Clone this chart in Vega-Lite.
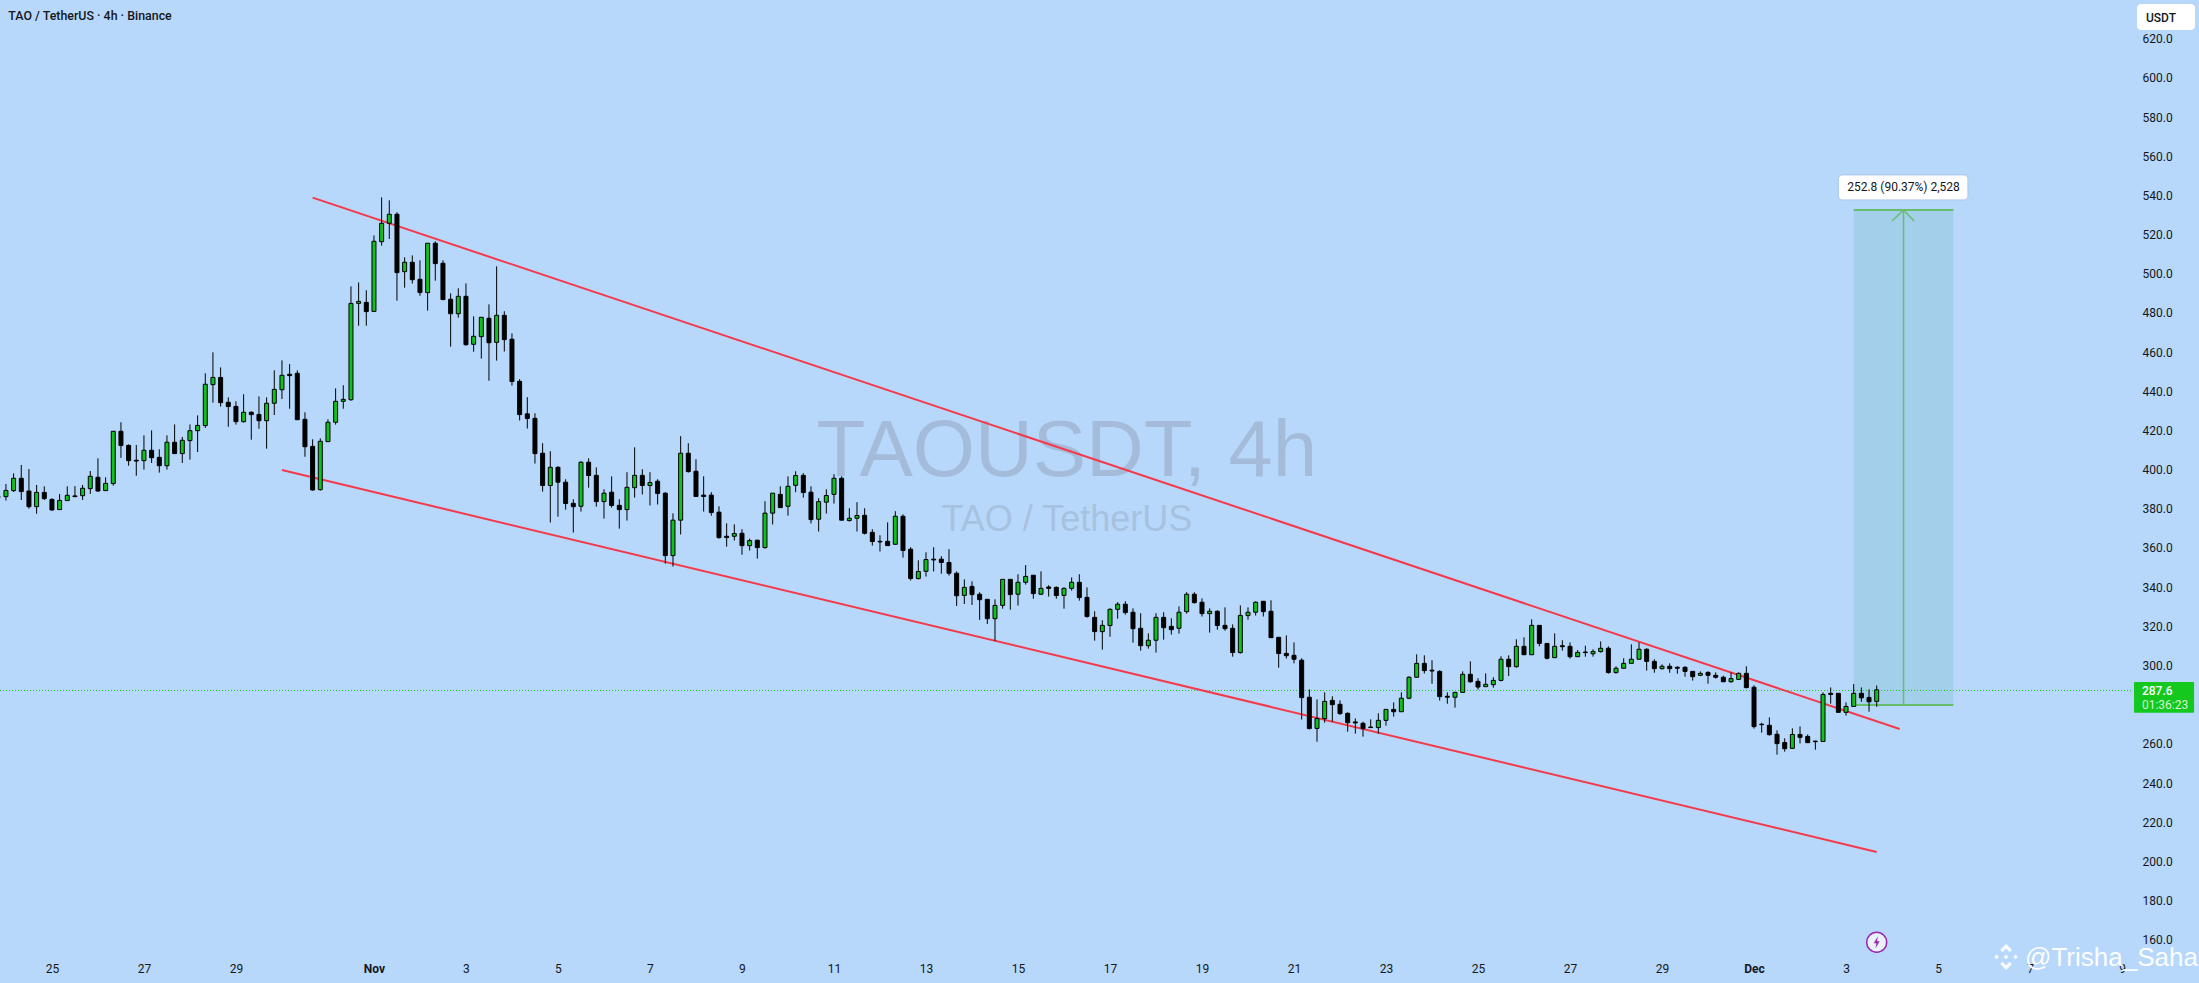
{"$schema":"https://vega.github.io/schema/vega-lite/v6.json","width":2133,"height":955,"autosize":{"type":"none"},"padding":{"left":0,"top":0,"right":66,"bottom":28},"background":"#b8d8fb","config":{"view":{"stroke":null},"font":"Roboto"},
"datasets":{"candles":[
{"t":"2024-10-23T20:00:00Z","o":386.1,"h":386.3,"l":385.9,"c":386.0},
{"t":"2024-10-24T00:00:00Z","o":386.2,"h":392.7,"l":384.2,"c":389.4},{"t":"2024-10-24T04:00:00Z","o":389.3,"h":398.1,"l":388.6,"c":395.6},{"t":"2024-10-24T08:00:00Z","o":395.6,"h":402.4,"l":384.5,"c":388.8},{"t":"2024-10-24T12:00:00Z","o":389.1,"h":400.3,"l":380.1,"c":381.1},{"t":"2024-10-24T16:00:00Z","o":381.1,"h":392.2,"l":377.5,"c":388.4},{"t":"2024-10-24T20:00:00Z","o":388.4,"h":391.5,"l":384.5,"c":385.2},
{"t":"2024-10-25T00:00:00Z","o":384.8,"h":385.4,"l":379.1,"c":379.4},{"t":"2024-10-25T04:00:00Z","o":379.6,"h":387.6,"l":379.6,"c":384.3},{"t":"2024-10-25T08:00:00Z","o":384.2,"h":391.5,"l":384.2,"c":386.9},{"t":"2024-10-25T12:00:00Z","o":386.6,"h":391.6,"l":386.2,"c":386.2},{"t":"2024-10-25T16:00:00Z","o":386.7,"h":392.2,"l":384.5,"c":390.5},{"t":"2024-10-25T20:00:00Z","o":390.3,"h":399.3,"l":387.6,"c":396.6},
{"t":"2024-10-26T00:00:00Z","o":396.1,"h":405.8,"l":388.8,"c":389.1},{"t":"2024-10-26T04:00:00Z","o":389.3,"h":396.1,"l":389.3,"c":393.0},{"t":"2024-10-26T08:00:00Z","o":392.9,"h":419.6,"l":391.8,"c":419.6},{"t":"2024-10-26T12:00:00Z","o":419.6,"h":424.2,"l":406.0,"c":412.3},{"t":"2024-10-26T16:00:00Z","o":412.4,"h":412.9,"l":402.0,"c":404.6},{"t":"2024-10-26T20:00:00Z","o":404.8,"h":412.6,"l":396.9,"c":404.4},
{"t":"2024-10-27T00:00:00Z","o":404.6,"h":417.5,"l":400.0,"c":409.9},{"t":"2024-10-27T04:00:00Z","o":409.9,"h":420.1,"l":403.4,"c":406.1},{"t":"2024-10-27T08:00:00Z","o":406.3,"h":410.4,"l":398.5,"c":402.0},{"t":"2024-10-27T12:00:00Z","o":402.0,"h":417.5,"l":400.0,"c":414.0},{"t":"2024-10-27T16:00:00Z","o":414.0,"h":423.1,"l":408.2,"c":408.2},{"t":"2024-10-27T20:00:00Z","o":408.2,"h":416.7,"l":403.4,"c":415.0},
{"t":"2024-10-28T00:00:00Z","o":414.8,"h":423.1,"l":405.1,"c":419.9},{"t":"2024-10-28T04:00:00Z","o":419.9,"h":427.7,"l":409.0,"c":422.6},{"t":"2024-10-28T08:00:00Z","o":422.5,"h":449.2,"l":421.3,"c":443.6},{"t":"2024-10-28T12:00:00Z","o":443.4,"h":459.9,"l":434.2,"c":447.1},{"t":"2024-10-28T16:00:00Z","o":447.1,"h":452.2,"l":432.2,"c":434.2},{"t":"2024-10-28T20:00:00Z","o":434.4,"h":436.9,"l":421.9,"c":432.2},
{"t":"2024-10-29T00:00:00Z","o":432.3,"h":434.9,"l":423.0,"c":424.5},{"t":"2024-10-29T04:00:00Z","o":424.5,"h":438.5,"l":424.0,"c":429.3},{"t":"2024-10-29T08:00:00Z","o":429.3,"h":429.8,"l":415.3,"c":428.1},{"t":"2024-10-29T12:00:00Z","o":428.2,"h":437.4,"l":420.9,"c":425.0},{"t":"2024-10-29T16:00:00Z","o":425.0,"h":436.9,"l":410.7,"c":433.9},{"t":"2024-10-29T20:00:00Z","o":433.9,"h":450.7,"l":427.9,"c":441.0},
{"t":"2024-10-30T00:00:00Z","o":440.8,"h":455.8,"l":436.1,"c":448.2},{"t":"2024-10-30T04:00:00Z","o":448.7,"h":453.9,"l":431.1,"c":448.0},{"t":"2024-10-30T08:00:00Z","o":449.2,"h":450.7,"l":425.5,"c":425.5},{"t":"2024-10-30T12:00:00Z","o":425.7,"h":429.3,"l":406.6,"c":411.7},{"t":"2024-10-30T16:00:00Z","o":411.9,"h":415.5,"l":389.3,"c":389.6},{"t":"2024-10-30T20:00:00Z","o":389.8,"h":416.0,"l":389.3,"c":414.5},
{"t":"2024-10-31T00:00:00Z","o":414.3,"h":425.7,"l":414.3,"c":424.2},{"t":"2024-10-31T04:00:00Z","o":424.2,"h":441.5,"l":423.0,"c":434.9},{"t":"2024-10-31T08:00:00Z","o":434.9,"h":443.1,"l":431.1,"c":435.9},{"t":"2024-10-31T12:00:00Z","o":435.7,"h":493.6,"l":435.2,"c":484.9},{"t":"2024-10-31T16:00:00Z","o":484.9,"h":495.6,"l":473.5,"c":485.9},{"t":"2024-10-31T20:00:00Z","o":485.4,"h":491.6,"l":473.5,"c":480.7},
{"t":"2024-11-01T00:00:00Z","o":480.8,"h":519.6,"l":480.8,"c":516.6},{"t":"2024-11-01T04:00:00Z","o":516.4,"h":539.0,"l":514.4,"c":525.8},{"t":"2024-11-01T08:00:00Z","o":525.8,"h":537.5,"l":517.8,"c":530.4},{"t":"2024-11-01T12:00:00Z","o":530.4,"h":531.4,"l":486.3,"c":500.6},{"t":"2024-11-01T16:00:00Z","o":501.1,"h":508.4,"l":492.9,"c":505.9},{"t":"2024-11-01T20:00:00Z","o":505.9,"h":509.4,"l":495.0,"c":497.0},
{"t":"2024-11-02T00:00:00Z","o":497.2,"h":506.9,"l":488.8,"c":490.4},{"t":"2024-11-02T04:00:00Z","o":490.4,"h":515.6,"l":481.2,"c":515.6},{"t":"2024-11-02T08:00:00Z","o":515.6,"h":516.6,"l":496.5,"c":505.2},{"t":"2024-11-02T12:00:00Z","o":505.4,"h":506.9,"l":486.8,"c":486.8},{"t":"2024-11-02T16:00:00Z","o":487.0,"h":490.0,"l":462.8,"c":479.6},{"t":"2024-11-02T20:00:00Z","o":479.6,"h":492.6,"l":477.6,"c":488.5},
{"t":"2024-11-03T00:00:00Z","o":488.5,"h":495.1,"l":463.3,"c":463.8},{"t":"2024-11-03T04:00:00Z","o":464.0,"h":478.3,"l":460.2,"c":468.1},{"t":"2024-11-03T08:00:00Z","o":467.9,"h":477.8,"l":456.7,"c":477.8},{"t":"2024-11-03T12:00:00Z","o":477.3,"h":484.4,"l":445.4,"c":464.8},{"t":"2024-11-03T16:00:00Z","o":465.0,"h":503.8,"l":455.7,"c":478.8},{"t":"2024-11-03T20:00:00Z","o":478.8,"h":480.9,"l":460.3,"c":466.4},
{"t":"2024-11-04T00:00:00Z","o":466.6,"h":469.6,"l":442.9,"c":445.0},{"t":"2024-11-04T04:00:00Z","o":445.1,"h":446.2,"l":425.1,"c":428.1},{"t":"2024-11-04T08:00:00Z","o":428.5,"h":437.0,"l":421.0,"c":426.1},{"t":"2024-11-04T12:00:00Z","o":426.2,"h":428.8,"l":403.1,"c":408.2},{"t":"2024-11-04T16:00:00Z","o":408.4,"h":413.5,"l":388.8,"c":391.9},{"t":"2024-11-04T20:00:00Z","o":391.9,"h":409.4,"l":373.0,"c":401.2},
{"t":"2024-11-05T00:00:00Z","o":401.2,"h":401.7,"l":376.0,"c":393.6},{"t":"2024-11-05T04:00:00Z","o":393.6,"h":395.1,"l":379.6,"c":382.7},{"t":"2024-11-05T08:00:00Z","o":382.8,"h":384.9,"l":367.9,"c":381.1},{"t":"2024-11-05T12:00:00Z","o":381.3,"h":404.3,"l":378.6,"c":403.8},{"t":"2024-11-05T16:00:00Z","o":403.8,"h":405.8,"l":390.8,"c":397.0},{"t":"2024-11-05T20:00:00Z","o":397.1,"h":401.2,"l":381.1,"c":383.7},
{"t":"2024-11-06T00:00:00Z","o":383.7,"h":390.0,"l":375.0,"c":388.0},{"t":"2024-11-06T04:00:00Z","o":388.5,"h":396.6,"l":380.6,"c":381.7},{"t":"2024-11-06T08:00:00Z","o":381.8,"h":384.9,"l":369.9,"c":379.6},{"t":"2024-11-06T12:00:00Z","o":379.6,"h":398.7,"l":374.0,"c":391.0},{"t":"2024-11-06T16:00:00Z","o":390.8,"h":411.4,"l":385.7,"c":397.1},{"t":"2024-11-06T20:00:00Z","o":397.1,"h":400.2,"l":387.3,"c":391.9},
{"t":"2024-11-07T00:00:00Z","o":391.9,"h":398.7,"l":381.7,"c":393.4},{"t":"2024-11-07T04:00:00Z","o":394.1,"h":395.1,"l":382.2,"c":387.8},{"t":"2024-11-07T08:00:00Z","o":388.0,"h":388.5,"l":352.0,"c":356.1},{"t":"2024-11-07T12:00:00Z","o":356.1,"h":377.7,"l":350.5,"c":374.2},{"t":"2024-11-07T16:00:00Z","o":374.2,"h":417.1,"l":366.9,"c":408.4},{"t":"2024-11-07T20:00:00Z","o":408.4,"h":413.5,"l":398.5,"c":399.0},
{"t":"2024-11-08T00:00:00Z","o":399.2,"h":405.3,"l":386.3,"c":386.3},{"t":"2024-11-08T04:00:00Z","o":387.0,"h":396.6,"l":378.6,"c":386.3},{"t":"2024-11-08T08:00:00Z","o":387.0,"h":388.5,"l":376.5,"c":378.1},{"t":"2024-11-08T12:00:00Z","o":378.3,"h":381.3,"l":364.8,"c":365.3},{"t":"2024-11-08T16:00:00Z","o":366.0,"h":372.6,"l":360.7,"c":365.3},{"t":"2024-11-08T20:00:00Z","o":366.0,"h":372.1,"l":363.8,"c":367.4},
{"t":"2024-11-09T00:00:00Z","o":367.5,"h":369.6,"l":356.6,"c":361.2},{"t":"2024-11-09T04:00:00Z","o":361.2,"h":364.8,"l":358.7,"c":363.8},{"t":"2024-11-09T08:00:00Z","o":364.0,"h":364.1,"l":354.6,"c":360.2},{"t":"2024-11-09T12:00:00Z","o":360.2,"h":383.9,"l":359.7,"c":377.8},{"t":"2024-11-09T16:00:00Z","o":377.8,"h":388.0,"l":372.0,"c":388.0},{"t":"2024-11-09T20:00:00Z","o":387.4,"h":391.5,"l":380.6,"c":380.6},
{"t":"2024-11-10T00:00:00Z","o":381.3,"h":396.6,"l":376.5,"c":391.5},{"t":"2024-11-10T04:00:00Z","o":392.0,"h":399.2,"l":388.5,"c":397.0},{"t":"2024-11-10T08:00:00Z","o":397.1,"h":398.2,"l":385.7,"c":388.3},{"t":"2024-11-10T12:00:00Z","o":388.5,"h":391.5,"l":372.5,"c":374.5},{"t":"2024-11-10T16:00:00Z","o":374.7,"h":385.4,"l":368.4,"c":383.7},{"t":"2024-11-10T20:00:00Z","o":383.4,"h":390.0,"l":377.6,"c":386.8},
{"t":"2024-11-11T00:00:00Z","o":387.4,"h":397.7,"l":382.7,"c":395.6},{"t":"2024-11-11T04:00:00Z","o":395.6,"h":396.6,"l":374.2,"c":374.2},{"t":"2024-11-11T08:00:00Z","o":374.0,"h":380.3,"l":373.5,"c":375.2},{"t":"2024-11-11T12:00:00Z","o":375.2,"h":383.4,"l":368.4,"c":376.6},{"t":"2024-11-11T16:00:00Z","o":376.7,"h":380.3,"l":366.9,"c":367.5},{"t":"2024-11-11T20:00:00Z","o":368.0,"h":369.6,"l":361.2,"c":363.3},
{"t":"2024-11-12T00:00:00Z","o":363.4,"h":366.5,"l":358.2,"c":363.1},{"t":"2024-11-12T04:00:00Z","o":363.4,"h":373.1,"l":361.2,"c":361.2},{"t":"2024-11-12T08:00:00Z","o":361.9,"h":378.8,"l":361.7,"c":376.2},{"t":"2024-11-12T12:00:00Z","o":376.2,"h":377.2,"l":355.1,"c":358.7},{"t":"2024-11-12T16:00:00Z","o":359.4,"h":360.4,"l":343.4,"c":344.4},{"t":"2024-11-12T20:00:00Z","o":344.4,"h":353.7,"l":343.9,"c":348.0},
{"t":"2024-11-13T00:00:00Z","o":348.1,"h":357.8,"l":345.4,"c":354.1},{"t":"2024-11-13T04:00:00Z","o":354.3,"h":360.4,"l":348.0,"c":353.9},{"t":"2024-11-13T08:00:00Z","o":354.3,"h":355.8,"l":346.9,"c":352.6},{"t":"2024-11-13T12:00:00Z","o":352.6,"h":359.4,"l":345.9,"c":347.1},{"t":"2024-11-13T16:00:00Z","o":347.1,"h":348.0,"l":330.4,"c":335.6},{"t":"2024-11-13T20:00:00Z","o":335.8,"h":344.0,"l":331.4,"c":339.9},
{"t":"2024-11-14T00:00:00Z","o":340.4,"h":343.0,"l":330.9,"c":336.2},{"t":"2024-11-14T04:00:00Z","o":336.4,"h":337.4,"l":323.3,"c":333.6},{"t":"2024-11-14T08:00:00Z","o":333.8,"h":333.8,"l":321.2,"c":323.9},{"t":"2024-11-14T12:00:00Z","o":323.9,"h":333.8,"l":312.5,"c":330.7},{"t":"2024-11-14T16:00:00Z","o":330.7,"h":344.0,"l":329.0,"c":344.0},{"t":"2024-11-14T20:00:00Z","o":344.0,"h":344.0,"l":328.5,"c":336.2},
{"t":"2024-11-15T00:00:00Z","o":336.4,"h":346.6,"l":330.6,"c":342.5},{"t":"2024-11-15T04:00:00Z","o":342.5,"h":351.3,"l":341.3,"c":345.5},{"t":"2024-11-15T08:00:00Z","o":346.1,"h":346.1,"l":334.1,"c":336.7},{"t":"2024-11-15T12:00:00Z","o":336.4,"h":348.1,"l":336.2,"c":339.4},{"t":"2024-11-15T16:00:00Z","o":340.1,"h":341.0,"l":335.2,"c":339.4},{"t":"2024-11-15T20:00:00Z","o":339.9,"h":340.4,"l":334.1,"c":335.7},
{"t":"2024-11-16T00:00:00Z","o":335.8,"h":339.9,"l":329.0,"c":339.4},{"t":"2024-11-16T04:00:00Z","o":339.4,"h":345.0,"l":338.2,"c":342.5},{"t":"2024-11-16T08:00:00Z","o":342.5,"h":346.6,"l":333.1,"c":334.7},{"t":"2024-11-16T12:00:00Z","o":334.8,"h":339.9,"l":324.4,"c":325.0},{"t":"2024-11-16T16:00:00Z","o":324.6,"h":327.7,"l":312.7,"c":317.3},{"t":"2024-11-16T20:00:00Z","o":317.3,"h":323.1,"l":308.1,"c":320.5},
{"t":"2024-11-17T00:00:00Z","o":320.4,"h":329.2,"l":314.7,"c":328.7},{"t":"2024-11-17T04:00:00Z","o":328.7,"h":332.3,"l":323.9,"c":331.3},{"t":"2024-11-17T08:00:00Z","o":331.3,"h":332.8,"l":326.0,"c":327.0},{"t":"2024-11-17T12:00:00Z","o":327.2,"h":329.2,"l":311.7,"c":318.8},{"t":"2024-11-17T16:00:00Z","o":319.0,"h":326.7,"l":307.6,"c":310.1},{"t":"2024-11-17T20:00:00Z","o":310.1,"h":316.4,"l":308.6,"c":312.9},
{"t":"2024-11-18T00:00:00Z","o":312.9,"h":326.7,"l":306.6,"c":324.6},{"t":"2024-11-18T04:00:00Z","o":324.6,"h":327.2,"l":313.2,"c":319.3},{"t":"2024-11-18T08:00:00Z","o":320.0,"h":324.1,"l":315.8,"c":318.3},{"t":"2024-11-18T12:00:00Z","o":319.0,"h":330.2,"l":316.3,"c":327.2},{"t":"2024-11-18T16:00:00Z","o":327.5,"h":337.4,"l":326.5,"c":336.4},{"t":"2024-11-18T20:00:00Z","o":336.4,"h":337.4,"l":331.6,"c":332.1},
{"t":"2024-11-19T00:00:00Z","o":332.3,"h":334.3,"l":325.0,"c":326.5},{"t":"2024-11-19T04:00:00Z","o":326.5,"h":329.2,"l":316.8,"c":327.7},{"t":"2024-11-19T08:00:00Z","o":327.7,"h":328.2,"l":318.3,"c":320.4},{"t":"2024-11-19T12:00:00Z","o":320.5,"h":329.7,"l":317.8,"c":318.8},{"t":"2024-11-19T16:00:00Z","o":319.0,"h":321.0,"l":304.5,"c":306.6},{"t":"2024-11-19T20:00:00Z","o":306.6,"h":330.7,"l":306.1,"c":325.6},
{"t":"2024-11-20T00:00:00Z","o":325.5,"h":329.7,"l":323.4,"c":327.2},{"t":"2024-11-20T04:00:00Z","o":327.2,"h":332.8,"l":325.5,"c":332.3},{"t":"2024-11-20T08:00:00Z","o":332.8,"h":332.8,"l":325.0,"c":327.5},{"t":"2024-11-20T12:00:00Z","o":327.7,"h":333.3,"l":314.2,"c":314.2},{"t":"2024-11-20T16:00:00Z","o":314.4,"h":314.4,"l":298.9,"c":306.1},{"t":"2024-11-20T20:00:00Z","o":306.2,"h":315.4,"l":303.5,"c":305.0},
{"t":"2024-11-21T00:00:00Z","o":305.2,"h":311.8,"l":301.1,"c":303.2},{"t":"2024-11-21T04:00:00Z","o":302.7,"h":303.7,"l":272.4,"c":283.6},{"t":"2024-11-21T08:00:00Z","o":283.8,"h":287.8,"l":267.3,"c":267.8},{"t":"2024-11-21T12:00:00Z","o":267.9,"h":282.7,"l":261.1,"c":272.9},{"t":"2024-11-21T16:00:00Z","o":272.9,"h":286.3,"l":270.8,"c":281.7},{"t":"2024-11-21T20:00:00Z","o":282.2,"h":284.3,"l":271.3,"c":280.0},
{"t":"2024-11-22T00:00:00Z","o":280.2,"h":282.2,"l":274.9,"c":275.4},{"t":"2024-11-22T04:00:00Z","o":275.6,"h":276.1,"l":266.2,"c":270.8},{"t":"2024-11-22T08:00:00Z","o":271.2,"h":273.0,"l":265.2,"c":270.7},{"t":"2024-11-22T12:00:00Z","o":270.5,"h":271.3,"l":263.7,"c":267.8},{"t":"2024-11-22T16:00:00Z","o":268.6,"h":272.5,"l":268.3,"c":268.3},{"t":"2024-11-22T20:00:00Z","o":268.3,"h":275.6,"l":265.2,"c":272.0},
{"t":"2024-11-23T00:00:00Z","o":272.0,"h":277.6,"l":269.3,"c":277.6},{"t":"2024-11-23T04:00:00Z","o":277.6,"h":281.2,"l":273.9,"c":276.4},{"t":"2024-11-23T08:00:00Z","o":276.4,"h":286.3,"l":276.4,"c":283.3},{"t":"2024-11-23T12:00:00Z","o":283.3,"h":294.5,"l":282.8,"c":294.0},{"t":"2024-11-23T16:00:00Z","o":294.0,"h":305.7,"l":293.8,"c":301.1},{"t":"2024-11-23T20:00:00Z","o":301.1,"h":305.2,"l":295.9,"c":297.4},
{"t":"2024-11-24T00:00:00Z","o":297.6,"h":302.7,"l":290.7,"c":297.2},{"t":"2024-11-24T04:00:00Z","o":297.0,"h":297.6,"l":282.1,"c":284.1},{"t":"2024-11-24T08:00:00Z","o":284.3,"h":286.3,"l":280.5,"c":283.8},{"t":"2024-11-24T12:00:00Z","o":283.8,"h":286.5,"l":278.5,"c":286.3},{"t":"2024-11-24T16:00:00Z","o":286.3,"h":297.0,"l":286.3,"c":295.5},{"t":"2024-11-24T20:00:00Z","o":295.5,"h":302.1,"l":291.2,"c":291.7},
{"t":"2024-11-25T00:00:00Z","o":291.9,"h":293.5,"l":287.7,"c":289.0},{"t":"2024-11-25T04:00:00Z","o":289.2,"h":296.0,"l":289.2,"c":290.4},{"t":"2024-11-25T08:00:00Z","o":290.2,"h":294.0,"l":288.7,"c":292.4},{"t":"2024-11-25T12:00:00Z","o":292.4,"h":304.7,"l":291.9,"c":303.2},{"t":"2024-11-25T16:00:00Z","o":303.2,"h":305.2,"l":294.6,"c":299.4},{"t":"2024-11-25T20:00:00Z","o":299.4,"h":313.4,"l":298.9,"c":309.8},
{"t":"2024-11-26T00:00:00Z","o":309.8,"h":314.4,"l":305.5,"c":305.5},{"t":"2024-11-26T04:00:00Z","o":305.5,"h":323.6,"l":305.5,"c":320.5},{"t":"2024-11-26T08:00:00Z","o":320.5,"h":320.5,"l":309.8,"c":311.3},{"t":"2024-11-26T12:00:00Z","o":311.3,"h":311.3,"l":303.1,"c":303.7},{"t":"2024-11-26T16:00:00Z","o":304.0,"h":316.4,"l":304.0,"c":309.8},{"t":"2024-11-26T20:00:00Z","o":310.1,"h":312.9,"l":307.6,"c":309.6},
{"t":"2024-11-27T00:00:00Z","o":309.8,"h":311.8,"l":303.5,"c":304.5},{"t":"2024-11-27T04:00:00Z","o":304.5,"h":307.9,"l":304.5,"c":306.7},{"t":"2024-11-27T08:00:00Z","o":306.9,"h":310.1,"l":304.5,"c":306.6},{"t":"2024-11-27T12:00:00Z","o":306.0,"h":308.3,"l":304.5,"c":307.2},{"t":"2024-11-27T16:00:00Z","o":307.1,"h":312.3,"l":306.6,"c":308.8},{"t":"2024-11-27T20:00:00Z","o":308.8,"h":309.8,"l":295.8,"c":296.4},
{"t":"2024-11-28T00:00:00Z","o":296.4,"h":299.6,"l":295.8,"c":298.6},{"t":"2024-11-28T04:00:00Z","o":298.6,"h":303.7,"l":298.6,"c":301.1},{"t":"2024-11-28T08:00:00Z","o":301.1,"h":310.8,"l":301.1,"c":303.2},{"t":"2024-11-28T12:00:00Z","o":303.2,"h":311.8,"l":303.2,"c":308.3},{"t":"2024-11-28T16:00:00Z","o":308.3,"h":308.8,"l":297.4,"c":302.1},{"t":"2024-11-28T20:00:00Z","o":302.1,"h":303.2,"l":296.3,"c":298.4},
{"t":"2024-11-29T00:00:00Z","o":298.4,"h":300.6,"l":297.9,"c":299.6},{"t":"2024-11-29T04:00:00Z","o":299.6,"h":301.1,"l":296.3,"c":298.4},{"t":"2024-11-29T08:00:00Z","o":299.1,"h":299.6,"l":295.8,"c":298.6},{"t":"2024-11-29T12:00:00Z","o":299.1,"h":299.6,"l":294.3,"c":297.0},{"t":"2024-11-29T16:00:00Z","o":297.0,"h":297.0,"l":292.3,"c":294.3},{"t":"2024-11-29T20:00:00Z","o":295.0,"h":297.0,"l":294.6,"c":296.0},
{"t":"2024-11-30T00:00:00Z","o":296.5,"h":297.0,"l":290.7,"c":295.0},{"t":"2024-11-30T04:00:00Z","o":295.0,"h":296.5,"l":293.3,"c":294.0},{"t":"2024-11-30T08:00:00Z","o":294.0,"h":294.8,"l":291.7,"c":291.7},{"t":"2024-11-30T12:00:00Z","o":291.7,"h":296.5,"l":291.2,"c":293.3},{"t":"2024-11-30T16:00:00Z","o":292.9,"h":296.5,"l":292.9,"c":296.0},{"t":"2024-11-30T20:00:00Z","o":296.0,"h":299.6,"l":288.4,"c":288.7},
{"t":"2024-12-01T00:00:00Z","o":288.9,"h":289.9,"l":267.8,"c":268.8},{"t":"2024-12-01T04:00:00Z","o":270.0,"h":270.8,"l":265.7,"c":269.8},{"t":"2024-12-01T08:00:00Z","o":269.5,"h":273.5,"l":264.2,"c":264.7},{"t":"2024-12-01T12:00:00Z","o":264.9,"h":266.9,"l":254.5,"c":260.1},{"t":"2024-12-01T16:00:00Z","o":260.7,"h":262.8,"l":256.0,"c":257.5},{"t":"2024-12-01T20:00:00Z","o":257.7,"h":267.9,"l":257.5,"c":264.8},
{"t":"2024-12-02T00:00:00Z","o":264.8,"h":268.9,"l":260.2,"c":263.3},{"t":"2024-12-02T04:00:00Z","o":263.8,"h":264.8,"l":260.6,"c":260.6},{"t":"2024-12-02T08:00:00Z","o":261.4,"h":261.6,"l":257.0,"c":261.1},{"t":"2024-12-02T12:00:00Z","o":261.2,"h":286.3,"l":261.1,"c":285.2},{"t":"2024-12-02T16:00:00Z","o":285.8,"h":288.8,"l":280.5,"c":285.2},{"t":"2024-12-02T20:00:00Z","o":285.8,"h":285.8,"l":276.1,"c":276.1},
{"t":"2024-12-03T00:00:00Z","o":276.1,"h":281.2,"l":274.4,"c":279.1},{"t":"2024-12-03T04:00:00Z","o":279.1,"h":290.5,"l":278.9,"c":285.8},{"t":"2024-12-03T08:00:00Z","o":285.8,"h":288.8,"l":281.5,"c":283.5},{"t":"2024-12-03T12:00:00Z","o":283.7,"h":287.8,"l":276.4,"c":281.5},{"t":"2024-12-03T16:00:00Z","o":281.7,"h":289.8,"l":278.9,"c":287.6}
],
"trend":[{"id":"upper","t":"2024-10-30T16:00:00Z","v":538.9},{"id":"upper","t":"2024-12-04T04:00:00Z","v":267.6},{"id":"lower","t":"2024-10-30T00:00:00Z","v":399.8},{"id":"lower","t":"2024-12-03T16:00:00Z","v":204.8}],
"range":[{"t":"2024-12-03T04:00:00Z","t2":"2024-12-05T08:00:00Z","v":279.8,"v2":532.6}],
"edges":[{"id":"top","t":"2024-12-03T04:00:00Z","v":532.6},{"id":"top","t":"2024-12-05T08:00:00Z","v":532.6},{"id":"bottom","t":"2024-12-03T04:00:00Z","v":279.8},{"id":"bottom","t":"2024-12-05T08:00:00Z","v":279.8}],
"arrow":[{"id":"shaft","t":"2024-12-04T06:00:00Z","v":279.8},{"id":"shaft","t":"2024-12-04T06:00:00Z","v":532.6},{"id":"head","t":"2024-12-04T00:00:00Z","v":527},{"id":"head","t":"2024-12-04T06:00:00Z","v":532.6},{"id":"head","t":"2024-12-04T11:30:00Z","v":527}]},
"encoding":{"x":{"field":"t","type":"temporal","title":null,"scale":{"type":"utc","padding":0,"domain":[{"utc":true,"year":2024,"month":10,"date":23,"hours":20,"minutes":54},{"utc":true,"year":2024,"month":12,"date":9,"hours":5,"minutes":43}]},"axis":{"orient":"bottom","domain":false,"ticks":false,"grid":false,"labelOverlap":false,"labelFlush":false,"labelPadding":8,"labelFontSize":12,"labelFont":"Roboto","labelColor":"#131722","labelExpr":"utcdate(datum.value)==1 ? utcFormat(datum.value,'%b') : utcFormat(datum.value,'%-d')","labelFontWeight":{"condition":{"test":"utcdate(datum.value)==1","value":700},"value":400},"values":[{"utc":true,"year":2024,"month":10,"date":25},{"utc":true,"year":2024,"month":10,"date":27},{"utc":true,"year":2024,"month":10,"date":29},{"utc":true,"year":2024,"month":11,"date":1},{"utc":true,"year":2024,"month":11,"date":3},{"utc":true,"year":2024,"month":11,"date":5},{"utc":true,"year":2024,"month":11,"date":7},{"utc":true,"year":2024,"month":11,"date":9},{"utc":true,"year":2024,"month":11,"date":11},{"utc":true,"year":2024,"month":11,"date":13},{"utc":true,"year":2024,"month":11,"date":15},{"utc":true,"year":2024,"month":11,"date":17},{"utc":true,"year":2024,"month":11,"date":19},{"utc":true,"year":2024,"month":11,"date":21},{"utc":true,"year":2024,"month":11,"date":23},{"utc":true,"year":2024,"month":11,"date":25},{"utc":true,"year":2024,"month":11,"date":27},{"utc":true,"year":2024,"month":11,"date":29},{"utc":true,"year":2024,"month":12,"date":1},{"utc":true,"year":2024,"month":12,"date":3},{"utc":true,"year":2024,"month":12,"date":5},{"utc":true,"year":2024,"month":12,"date":7},{"utc":true,"year":2024,"month":12,"date":9}]}},
"y":{"field":"v","type":"quantitative","title":null,"scale":{"domain":[152.19,639.8],"nice":false,"zero":false},"axis":{"orient":"right","domain":false,"ticks":false,"grid":false,"labelOverlap":false,"labelFlush":false,"labelPadding":9,"labelFontSize":12,"labelFont":"Roboto","labelColor":"#131722","format":".1f","values":[160,180,200,220,240,260,300,320,340,360,380,400,420,440,460,480,500,520,540,560,580,600,620]}}},
"layer":[
{"data":{"values":[{"label":"TAOUSDT, 4h","t":"2024-11-16T01:30:00Z","v":408.8}]},"mark":{"type":"text","font":"Liberation Sans","fontSize":80,"align":"center","baseline":"middle","color":"#a4bcda"},"encoding":{"text":{"field":"label"}}},
{"data":{"values":[{"label":"TAO / TetherUS","t":"2024-11-16T01:30:00Z","v":374.1}]},"mark":{"type":"text","font":"Liberation Sans","fontSize":36,"align":"center","baseline":"middle","color":"#a7c2e0"},"encoding":{"text":{"field":"label"}}},
{"data":{"name":"range"},"mark":{"type":"rect","color":"#a3cfeb"},"encoding":{"x2":{"field":"t2"},"y2":{"field":"v2"}}},
{"data":{"values":[{"t":"2024-10-23T20:54:00Z","t2":"2024-12-09T05:43:00Z","v":287.25}]},"mark":{"type":"rule","color":"#10d01a","strokeWidth":1,"strokeDash":[1,2]},"encoding":{"x2":{"field":"t2"}}},
{"data":{"name":"edges"},"mark":{"type":"line","color":"#66bf6c","strokeWidth":2},"encoding":{"detail":{"field":"id"}}},
{"data":{"name":"arrow"},"mark":{"type":"line","color":"#66bf6c","strokeWidth":1.5},"encoding":{"detail":{"field":"id"}}},
{"data":{"name":"trend"},"mark":{"type":"line","color":"#f4394b","strokeWidth":2},"encoding":{"detail":{"field":"id"}}},
{"data":{"name":"candles"},"mark":{"type":"rule","color":"#000000","strokeWidth":1},"encoding":{"y":{"field":"l","type":"quantitative","title":null,"scale":{"domain":[152.19,639.8],"nice":false,"zero":false},"axis":{"orient":"right","domain":false,"ticks":false,"grid":false,"labelOverlap":false,"labelFlush":false,"labelPadding":9,"labelFontSize":12,"labelFont":"Roboto","labelColor":"#131722","format":".1f","values":[160,180,200,220,240,260,300,320,340,360,380,400,420,440,460,480,500,520,540,560,580,600,620]}},"y2":{"field":"h"}}},
{"data":{"name":"candles"},"mark":{"type":"bar","size":4,"stroke":"#000000","strokeWidth":1},"encoding":{"y":{"field":"o","type":"quantitative","title":null,"scale":{"domain":[152.19,639.8],"nice":false,"zero":false},"axis":{"orient":"right","domain":false,"ticks":false,"grid":false,"labelOverlap":false,"labelFlush":false,"labelPadding":9,"labelFontSize":12,"labelFont":"Roboto","labelColor":"#131722","format":".1f","values":[160,180,200,220,240,260,300,320,340,360,380,400,420,440,460,480,500,520,540,560,580,600,620]}},"y2":{"field":"c"},"color":{"condition":{"test":"datum.c>=datum.o","value":"#10c01e"},"value":"#000000"}}},
{"data":{"values":[{"label":"TAO / TetherUS · 4h · Binance","t":"2024-10-24T01:15:00Z","v":631.6}]},"mark":{"type":"text","align":"left","baseline":"middle","font":"Roboto","fontSize":12.4,"fontWeight":500,"color":"#131722"},"encoding":{"text":{"field":"label"}}},
{"data":{"values":[{"t":"2024-12-09T07:48:00Z","t2":"2024-12-10T14:06:00Z","v":637.7,"v2":624.5}]},"mark":{"type":"rect","color":"#ffffff","cornerRadius":4},"encoding":{"x2":{"field":"t2"},"y2":{"field":"v2"}}},
{"data":{"values":[{"label":"USDT","t":"2024-12-09T12:30:00Z","v":630.6}]},"mark":{"type":"text","align":"left","baseline":"middle","font":"Roboto","fontSize":12,"fontWeight":500,"color":"#131722"},"encoding":{"text":{"field":"label"}}},
{"data":{"values":[{"t":"2024-12-09T06:15:00Z","t2":"2024-12-10T13:35:00Z","v":291.6,"v2":275.9}]},"mark":{"type":"rect","color":"#14c81e","cornerRadius":1},"encoding":{"x2":{"field":"t2"},"y2":{"field":"v2"}}},
{"data":{"values":[{"label":"287.6","t":"2024-12-09T10:24:00Z","v":287.0}]},"mark":{"type":"text","align":"left","baseline":"middle","font":"Roboto","fontSize":12,"fontWeight":500,"color":"#ffffff"},"encoding":{"text":{"field":"label"}}},
{"data":{"values":[{"label":"01:36:23","t":"2024-12-09T10:24:00Z","v":280.0}]},"mark":{"type":"text","align":"left","baseline":"middle","font":"Roboto","fontSize":12,"color":"#d0f4d2"},"encoding":{"text":{"field":"label"}}},
{"data":{"values":[{"t":"2024-12-02T20:00:00Z","t2":"2024-12-05T15:36:00Z","v":550.5,"v2":537.7}]},"mark":{"type":"rect","color":"#ffffff","cornerRadius":4,"stroke":"#a9c6e8","strokeWidth":1},"encoding":{"x2":{"field":"t2"},"y2":{"field":"v2"}}},
{"data":{"values":[{"label":"252.8 (90.37%) 2,528","t":"2024-12-04T06:00:00Z","v":544.1}]},"mark":{"type":"text","align":"center","baseline":"middle","font":"Roboto","fontSize":12,"color":"#131722"},"encoding":{"text":{"field":"label"}}},
{"data":{"values":[{"t":"2024-12-03T16:00:00Z","v":158.7}]},"mark":{"type":"point","shape":"circle","size":400,"filled":true,"fill":"#e9f1fb","stroke":"#9c27b0","strokeWidth":1.5,"opacity":1}},
{"data":{"values":[{"t":"2024-12-03T16:00:00Z","v":158.7}]},"mark":{"type":"point","shape":"M0.2,-1 L-0.5,0.15 L-0.05,0.15 L-0.2,1 L0.5,-0.15 L0.05,-0.15 Z","size":144,"filled":true,"color":"#9c27b0","opacity":1}},
{"data":{"values":[{"t":"2024-12-06T11:30:00Z","v":151.2}]},"mark":{"type":"point","shape":"M0,-1 L0.45,-0.55 L0.27,-0.37 L0,-0.64 L-0.27,-0.37 L-0.45,-0.55 Z M0,1 L0.45,0.55 L0.27,0.37 L0,0.64 L-0.27,0.37 L-0.45,0.55 Z M-0.73,-0.18 L-0.55,0 L-0.73,0.18 L-0.91,0 Z M0.73,-0.18 L0.91,0 L0.73,0.18 L0.55,0 Z M0,-0.18 L0.18,0 L0,0.18 L-0.18,0 Z","size":676,"filled":true,"color":"#ffffff","opacity":0.9}},
{"data":{"values":[{"label":"@Trisha_Saha","t":"2024-12-06T21:24:00Z","v":150.7}]},"mark":{"type":"text","align":"left","baseline":"middle","font":"Liberation Sans","fontSize":26,"color":"#ffffff","opacity":0.95},"encoding":{"text":{"field":"label"}}}
]}
